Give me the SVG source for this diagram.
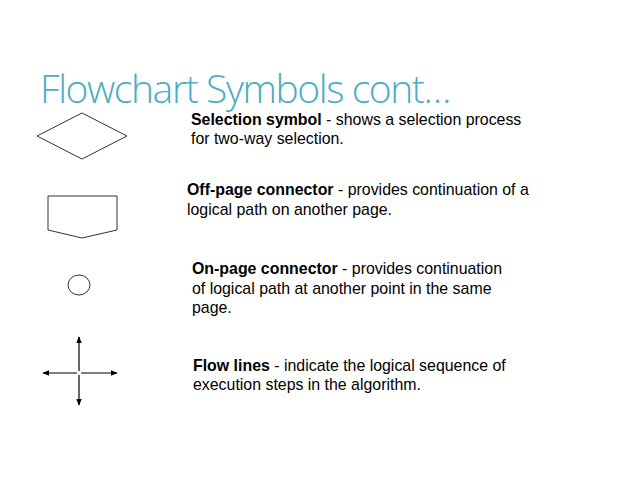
<svg xmlns="http://www.w3.org/2000/svg" width="638" height="478" viewBox="0 0 638 478">
<style>
.s{fill:none;stroke:#333;stroke-width:1}
.t{font-family:"Liberation Sans",Arial,sans-serif;font-size:15.9px;fill:#000}
.b{font-weight:bold}
.ln{stroke:#000;stroke-width:1.2}
</style>
<defs><marker id="a" viewBox="0 0 10 10" refX="9" refY="5" markerWidth="6" markerHeight="6" orient="auto"><path d="M0,1 L10,5 L0,9 z" fill="#000"/></marker></defs>
<rect width="638" height="478" fill="#fff"/>
<text x="40" y="103" font-family="'Open Sans',Lato,sans-serif" font-weight="300" font-size="39" fill="#4BACC6" letter-spacing="-1.4">Flowchart Symbols cont…</text>
<g id="selection"><polygon class="s" points="82,113 127,136 82,159 37,136"/></g>
<g id="offpage"><polygon class="s" points="48,196 117,196 117,230 82,238 48,230"/></g>
<g id="onpage"><ellipse class="s" cx="79" cy="285" rx="11" ry="10"/></g>
<g id="connectors">
<line class="ln" x1="79" y1="371" x2="79" y2="337" marker-end="url(#a)"/>
<line class="ln" x1="79" y1="375" x2="79" y2="405" marker-end="url(#a)"/>
<line class="ln" x1="77" y1="373" x2="43" y2="373" marker-end="url(#a)"/>
<line class="ln" x1="81" y1="373" x2="117" y2="373" marker-end="url(#a)"/>
</g>
<g id="texts">
<text class="t" x="191" y="125"><tspan class="b">Selection symbol</tspan> - shows a selection process</text>
<text class="t" x="191" y="144">for two-way selection.</text>
<text class="t" x="187" y="195"><tspan class="b">Off-page connector</tspan> - provides continuation of a</text>
<text class="t" x="187" y="215">logical path on another page.</text>
<text class="t" x="192" y="274"><tspan class="b">On-page connector</tspan> - provides continuation</text>
<text class="t" x="192" y="294">of logical path at another point in the same</text>
<text class="t" x="192" y="313">page.</text>
<text class="t" x="193" y="371"><tspan class="b">Flow lines</tspan> - indicate the logical sequence of</text>
<text class="t" x="193" y="390">execution steps in the algorithm.</text>
</g>
</svg>
